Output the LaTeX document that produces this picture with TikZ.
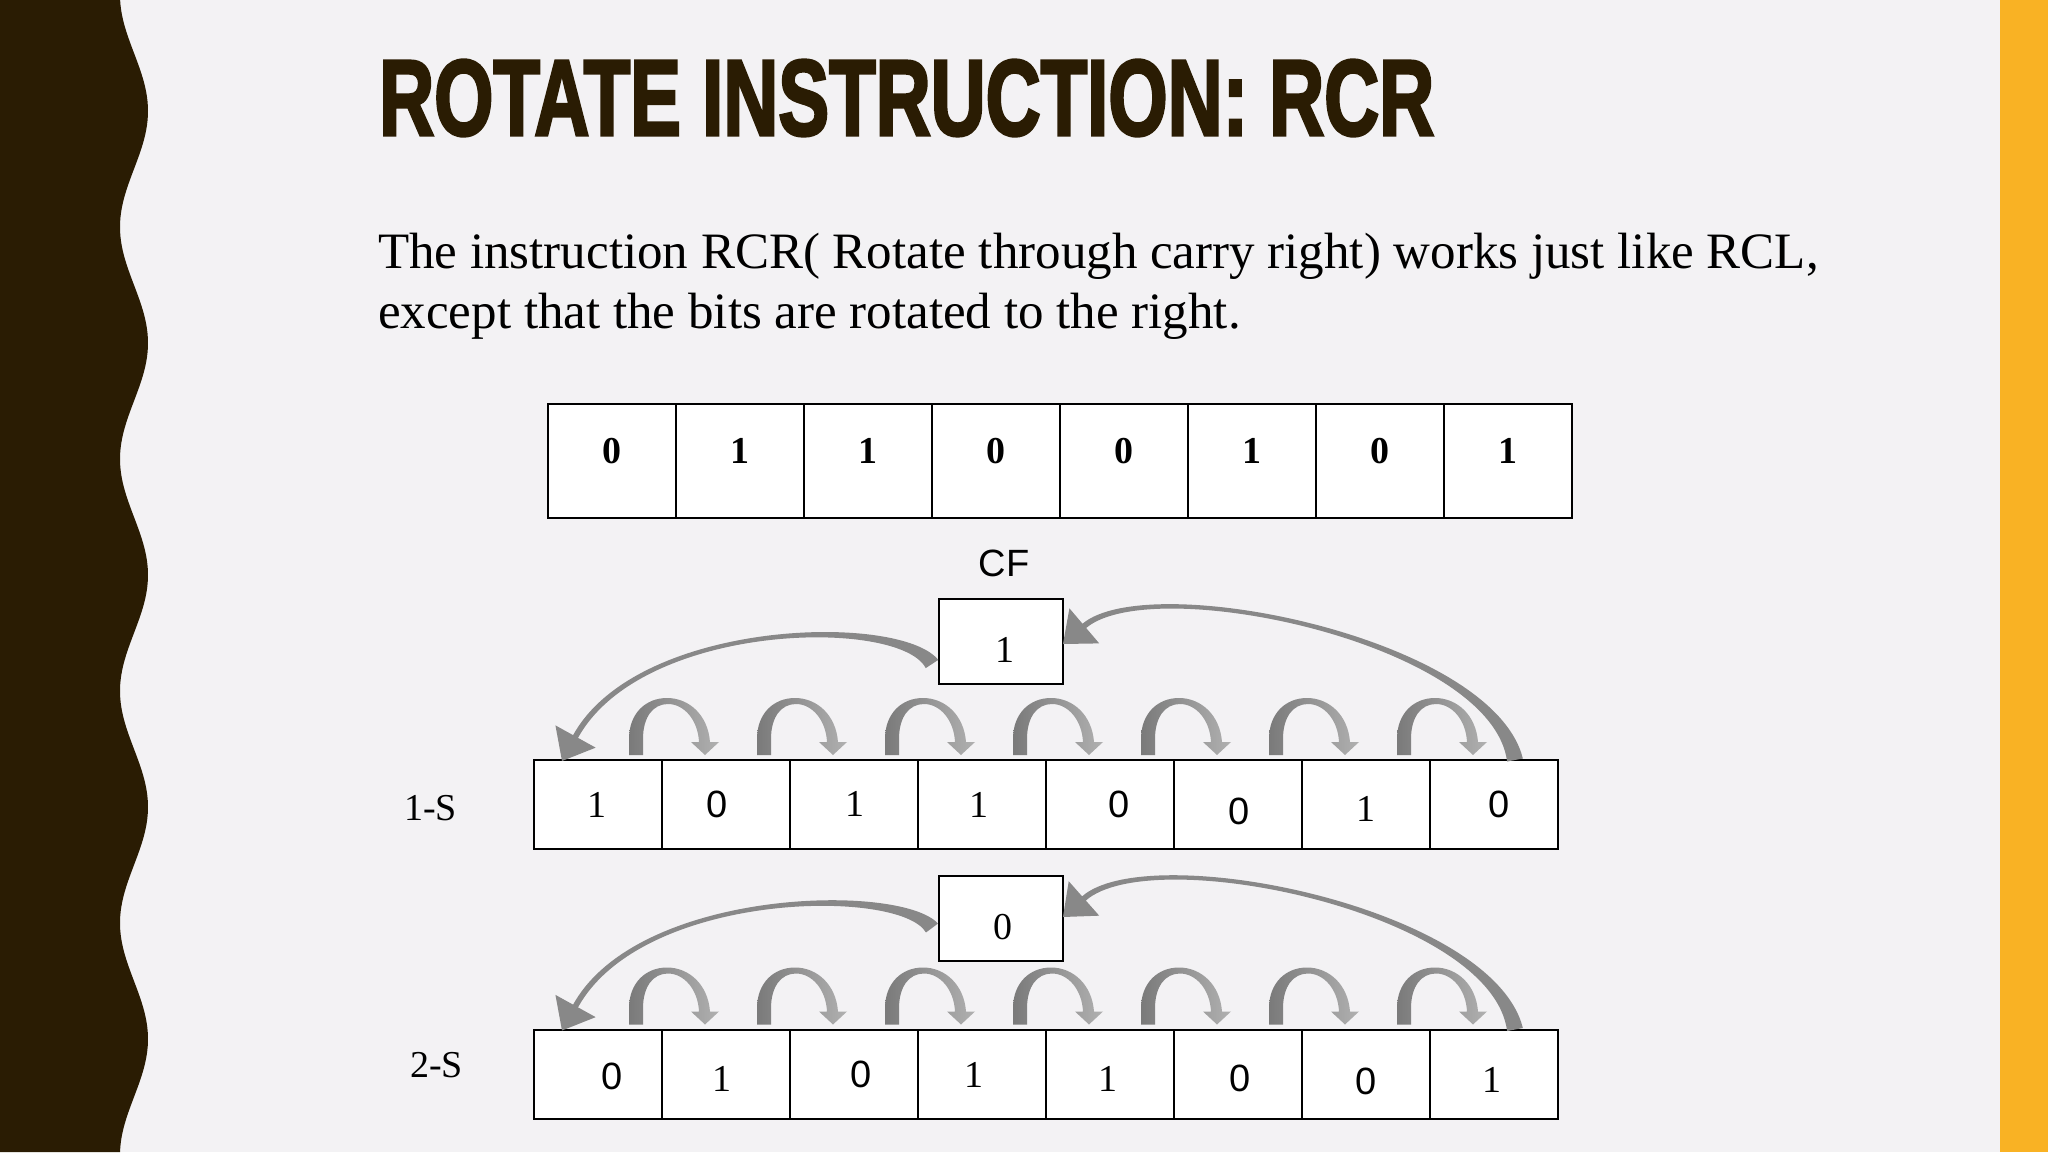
\documentclass[tikz,border=0pt]{standalone}
\usepackage{fontspec}
\usepackage{graphicx}
\setmainfont{Liberation Serif}
\newfontfamily\sans{Liberation Sans}
\newfontfamily\titlefont{Liberation Sans Bold}[FakeBold=3]
\usepackage{tikz}
\usetikzlibrary{calc,positioning}
\definecolor{bandbrown}{RGB}{42,28,3}
\definecolor{slidebg}{RGB}{243,242,244}
\definecolor{accentgold}{RGB}{249,178,36}
\definecolor{archdark}{RGB}{122,122,122}
\definecolor{archlight}{RGB}{176,176,176}
\definecolor{ribbongrey}{RGB}{136,136,136}
% tapered curved arrow: start, control 1, control 2, tip, half width at start
\newcommand{\ribbonw}{2.8pt}
\newcommand{\headw}{23pt}
\newcommand{\headl}{28pt}
\newcommand{\ribbonarrow}[5]{%
  \coordinate (rb-s) at #1;
  \coordinate (rb-c1) at #2;
  \coordinate (rb-c2) at #3;
  \coordinate (rb-t) at #4;
  \coordinate (rb-e) at ($(rb-t)!\headl!(rb-c2)$);
  \fill[ribbongrey]
    ($(rb-s)!#5!90:(rb-c1)$)
    .. controls ($(rb-c1)!\ribbonw!90:(rb-c2)$) and ($(rb-c2)!\ribbonw!90:(rb-e)$) ..
    ($(rb-e)!\ribbonw!-90:(rb-c2)$)
    -- ($(rb-e)!\headw!-90:(rb-c2)$) -- (rb-t) -- ($(rb-e)!\headw!90:(rb-c2)$)
    -- ($(rb-e)!\ribbonw!90:(rb-c2)$)
    .. controls ($(rb-c2)!\ribbonw!-90:(rb-e)$) and ($(rb-c1)!\ribbonw!-90:(rb-c2)$) ..
    ($(rb-s)!#5!-90:(rb-c1)$) -- cycle;
}
\tikzset{
  cellT/.style={draw,line width=2pt,fill=white,minimum width=128pt,minimum height=114pt,inner sep=0pt,outer sep=0pt},
  cell/.style={cellT,minimum height=89pt},
  cfbox/.style={cellT,minimum width=124pt,minimum height=85pt},
  bit/.style={font=\fontsize{38}{38}\selectfont,inner sep=0pt},
  bitbold/.style={font=\fontsize{38}{38}\selectfont\bfseries,inner sep=0pt},
  rowlabel/.style={font=\fontsize{38}{38}\selectfont,inner sep=0pt},
  cflabel/.style={font=\sans\fontsize{38}{38}\selectfont,inner sep=0pt},
  bodytext/.style={anchor=base west,inner sep=0pt,font=\fontsize{51}{60}\selectfont},
  archarrow/.pic={
    \shade[left color=archdark,right color=archlight]
      (0,0) -- (0,-16) .. controls (0,-42) and (17,-57) .. (38,-57)
      .. controls (60,-57) and (79,-40) .. (81,-13) -- (90,-13) -- (76,0) -- (62,-13) -- (70,-13)
      .. controls (69,-35) and (55,-51) .. (39,-51)
      .. controls (24,-51) and (14,-38) .. (14,-16) -- (14,0) -- cycle;
  }
}
\begin{document}
\begin{tikzpicture}[x=1pt,y=-1pt]
\useasboundingbox (0,0) rectangle (2048,1152);
\fill[slidebg] (0,0) rectangle (2048,1152);
% ---------- slide frame ----------
\fill[bandbrown] (0,0) -- plot[domain=0:1152,samples=240] ({134-14*cos(1.5517*(\x+5))},\x) -- (0,1152) -- cycle;
\fill[accentgold] (2000,0) rectangle (2048,1152);
% ---------- heading and text ----------
\node[anchor=base west,inner sep=0pt,text=bandbrown] (title) at (379,135)
  {\resizebox{1055pt}{75pt}{\titlefont ROTATE INSTRUCTION: RCR}};
\node[bodytext] (body1) at (378,268)
  {The instruction RCR( Rotate through carry right) works just like RCL,};
\node[bodytext] (body2) at (378,328)
  {except that the bits are rotated to the right.};
% ---------- the byte ----------
\foreach \i/\b in {1/0,2/1,3/1,4/0,5/0,6/1,7/0,8/1}{
  \node[cellT] (regT-\i) at ({484+128*\i},461) {};
  \node[bitbold] (bitT-\i) at ($(regT-\i.center)+(0,-10)$) {\b};
}
% ---------- first rotation ----------
\foreach \i in {1,...,8} \node[cell] (regA-\i) at ({470+128*\i},804.5) {};
\foreach \i/\b/\dx/\dy in {1/1/-1/0, 2/{\sans 0}/-9/0, 3/1/1/-1, 4/1/-3/0,
                           5/{\sans 0}/9/0, 6/{\sans 0}/1/7, 7/1/0/4, 8/{\sans 0}/5/0}
  \node[bit] (bitA-\i) at ($(regA-\i.center)+(\dx,\dy)$) {\b};
\node[cfbox] (cfA) at (1001,641.5) {};
\node[bit] (cfA-bit) at ($(cfA.center)+(4,8.5)$) {1};
\node[cflabel,above=22pt of cfA,xshift=3pt] (cfA-lbl) {CF};
\node[rowlabel,left=77pt of regA-1,yshift=-4pt] (lblA) {1-S};
\foreach \i in {1,...,7} \pic at ($(regA-\i.north east)+(-33,-5)$) {archarrow};
\ribbonarrow{($(cfA.west)+(-7,22.5)$)}{($(cfA.west)+(-39,-26.5)$)}
  {($(regA-1.north west)+(106,-140)$)}{($(regA-1.north west)+(28,1)$)}{7.5pt}
\ribbonarrow{($(regA-8.north east)+(-43,0)$)}{($(regA-8.north east)+(-66,-120)$)}
  {($(cfA.east)+(87,-71.5)$)}{($(cfA.east)+(0,2.5)$)}{8pt}
% ---------- second rotation ----------
\foreach \i in {1,...,8} \node[cell] (regB-\i) at ({470+128*\i},1074) {};
\foreach \i/\b/\dx/\dy in {1/{\sans 0}/14/2, 2/1/-4/5, 3/{\sans 0}/7/0, 4/1/-8/1,
                           5/1/-2/5, 6/{\sans 0}/2/4, 7/{\sans 0}/0/7, 8/1/-2/6}
  \node[bit] (bitB-\i) at ($(regB-\i.center)+(\dx,\dy)$) {\b};
\node[cfbox] (cfB) at (1001,918.5) {};
\node[bit] (cfB-bit) at ($(cfB.center)+(2,8.5)$) {0};
\node[rowlabel,left=71pt of regB-1,yshift=8.5pt] (lblB) {2-S};
\foreach \i in {1,...,7} \pic at ($(regB-\i.north east)+(-33,-5)$) {archarrow};
\ribbonarrow{($(cfB.west)+(-7,9.5)$)}{($(cfB.west)+(-39,-33.5)$)}
  {($(regB-1.north west)+(106,-140)$)}{($(regB-1.north west)+(28,1)$)}{7.5pt}
\ribbonarrow{($(regB-8.north east)+(-43,0)$)}{($(regB-8.north east)+(-66,-120)$)}
  {($(cfB.east)+(87,-78.5)$)}{($(cfB.east)+(0,-1.5)$)}{8pt}
\end{tikzpicture}
\end{document}
